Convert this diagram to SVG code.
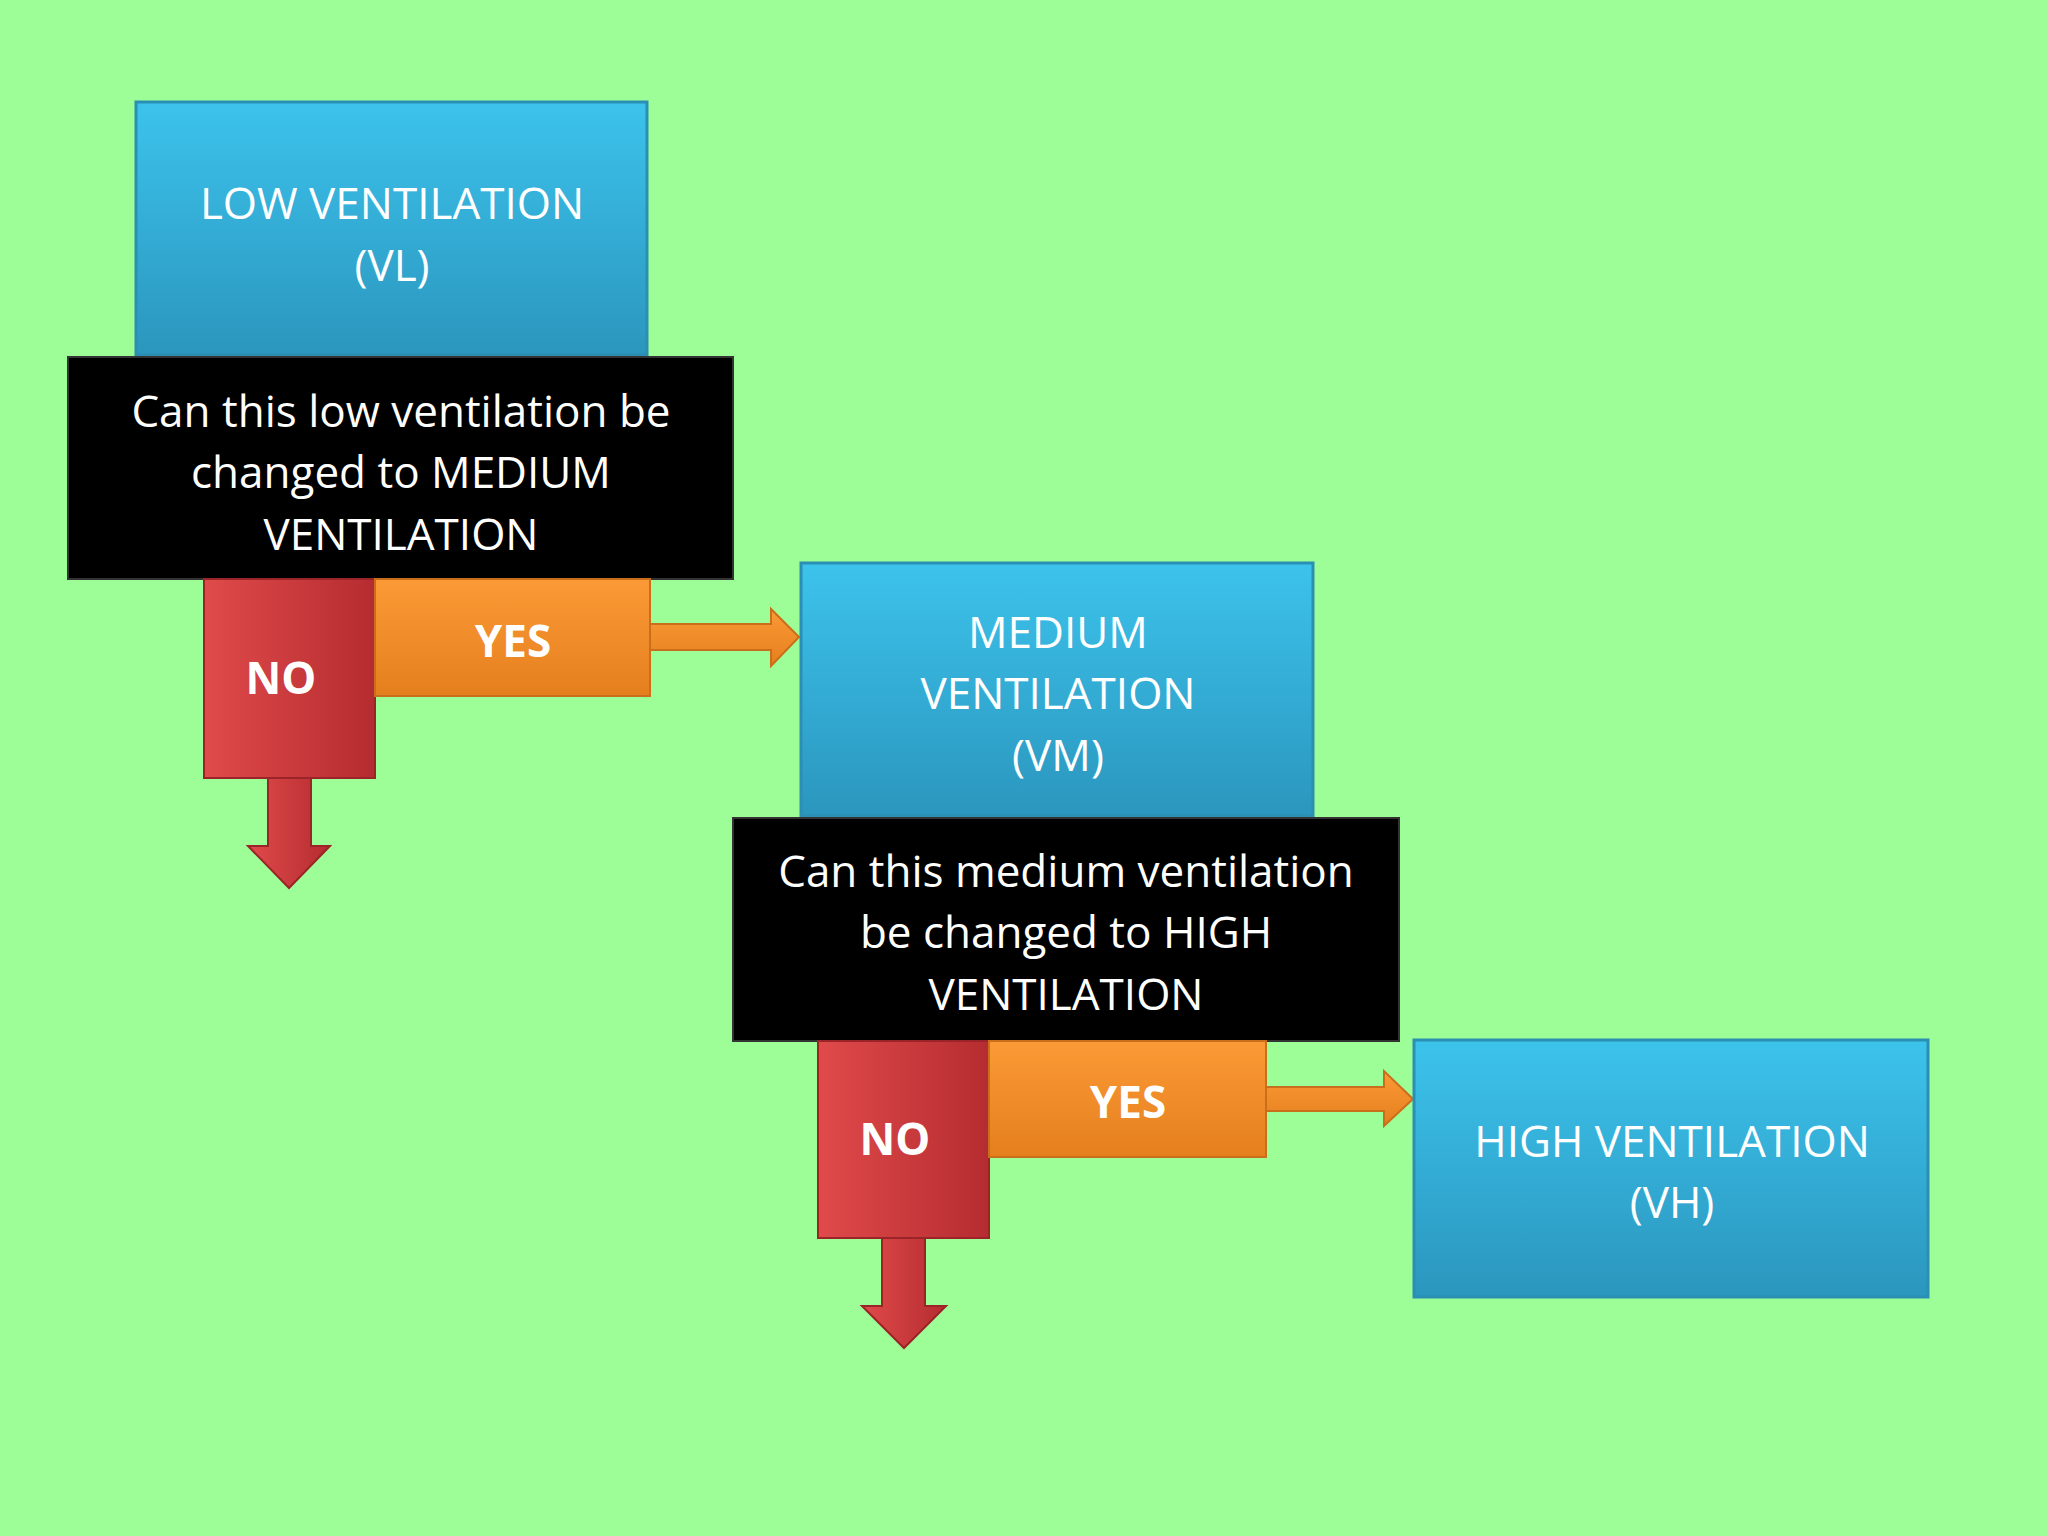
<svg xmlns="http://www.w3.org/2000/svg" width="2048" height="1536" viewBox="0 0 2048 1536">
<defs>
<linearGradient id="blue" x1="0" y1="0" x2="0" y2="1"><stop offset="0" stop-color="#3cc3ec"/><stop offset="1" stop-color="#2b96be"/></linearGradient>
<linearGradient id="red" x1="0" y1="0" x2="1" y2="0"><stop offset="0" stop-color="#e04a4a"/><stop offset="1" stop-color="#b52c30"/></linearGradient>
<linearGradient id="org" x1="0" y1="0" x2="0" y2="1"><stop offset="0" stop-color="#fb9a36"/><stop offset="1" stop-color="#e57f1e"/></linearGradient>
<style>
.b{fill:url(#blue);stroke:#2a8fb3;stroke-width:3}
.k{fill:#000;stroke:#333;stroke-width:2}
.r{fill:url(#red);stroke:#9a2428;stroke-width:2}
.o{fill:url(#org);stroke:#c96e1a;stroke-width:2}
text{font-family:"Open Sans","Liberation Sans",sans-serif;text-anchor:middle;dominant-baseline:central;fill:#fff;font-size:44px}
.bold{font-weight:bold}
</style>
</defs>
<rect width="2048" height="1536" fill="#9dfd97"/>
<g id="connectors">
<path class="r" d="M268 778V846H248L289 888L330 846H311V778Z"/>
<path class="o" d="M650 624H771V609L799 637L771 666V650H650Z"/>
<path class="r" d="M882 1238V1306H862L904 1348L946 1306H925V1238Z"/>
<path class="o" d="M1266 1087H1384V1071L1413 1099L1384 1126V1111H1266Z"/>
</g>
<g id="low"><rect class="b" x="136" y="102" width="511" height="253"/><text x="392" y="202">LOW VENTILATION</text><text x="392" y="264">(VL)</text></g>
<g id="q1"><rect class="k" x="68" y="357" width="665" height="222"/><text x="401" y="410">Can this low ventilation be</text><text x="401" y="471">changed to MEDIUM</text><text x="401" y="533">VENTILATION</text></g>
<g id="no1"><rect class="r" x="204" y="579" width="171" height="199"/><text class="bold" x="281" y="677">NO</text></g>
<g id="yes1"><rect class="o" x="375" y="579" width="275" height="117"/><text class="bold" x="513" y="640">YES</text></g>
<g id="medium"><rect class="b" x="801" y="563" width="512" height="253"/><text x="1058" y="631">MEDIUM</text><text x="1058" y="692">VENTILATION</text><text x="1058" y="754">(VM)</text></g>
<g id="q2"><rect class="k" x="733" y="818" width="666" height="223"/><text x="1066" y="870">Can this medium ventilation</text><text x="1066" y="931">be changed to  HIGH</text><text x="1066" y="993">VENTILATION</text></g>
<g id="no2"><rect class="r" x="818" y="1041" width="171" height="197"/><text class="bold" x="895" y="1138">NO</text></g>
<g id="yes2"><rect class="o" x="989" y="1041" width="277" height="116"/><text class="bold" x="1128" y="1101">YES</text></g>
<g id="high"><rect class="b" x="1414" y="1040" width="514" height="257"/><text x="1672" y="1140">HIGH VENTILATION</text><text x="1672" y="1201">(VH)</text></g>
</svg>
